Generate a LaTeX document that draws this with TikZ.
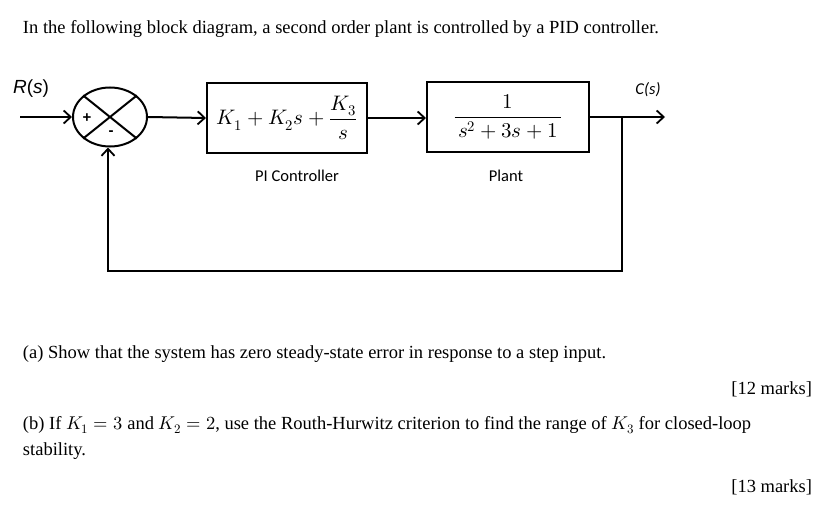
\documentclass[tikz,border=0pt]{standalone}
\usepackage{amsmath}
\usepackage{unicode-math}
\setmainfont{Liberation Serif}
\setmathfont{Latin Modern Math}
\newfontfamily\carl{Carlito}
\newfontfamily\arl{Liberation Sans}
\usetikzlibrary{shapes.geometric,arrows.meta}
\begin{document}
\begin{tikzpicture}[x=1pt,y=-1pt,
  line width=2pt,
  blk/.style={draw,line width=2pt,minimum width=#1,minimum height=69pt,inner sep=0},
  arr/.style={-{Straight Barb[length=7pt,width=13pt,line width=1.8pt]}},
  txt/.style={anchor=west,font=\fontsize{18.5}{22}\selectfont,inner sep=0},
  lab/.style={font=\carl\fontsize{16.5}{20}\selectfont,inner sep=0}]
\useasboundingbox (0,0) rectangle (839,519);
\node[txt] (title) at (22,29) {In the following block diagram, a second order plant is controlled by a PID controller.};
\node[draw,ellipse,line width=2pt,minimum width=74pt,minimum height=59pt,inner sep=0] (sum) at (110,117) {};
\draw (sum.north west) -- (sum.south east) (sum.north east) -- (sum.south west);
\node[font=\arl\bfseries\fontsize{15}{18}\selectfont] (plus) at (87,118) {+};
\node[font=\arl\bfseries\fontsize{15}{18}\selectfont] (minus) at (111,133) {-};
\coordinate (in) at (20,117);
\node[font=\arl\fontsize{19}{22}\selectfont,inner sep=0] (R) at (31,89) {{\itshape R}({\itshape s})};
\node[blk=160pt] (pi) at (287,118) {\fontsize{21}{25}\selectfont $K_1+K_2s+\dfrac{K_3}{s}$};
\node[blk=162pt] (plant) at (508,117) {\fontsize{21}{25}\selectfont $\dfrac{1}{\,s^2+3s+1\,}$};
\node[lab] (pil) at (297,176) {PI Controller};
\node[lab] (pll) at (506,176) {Plant};
\node[lab,font=\carl\itshape\fontsize{16.5}{20}\selectfont] (C) at (648,90) {C(s)};
\coordinate (out) at (665,117);
\coordinate (br) at (622,117);
\coordinate (b1) at (622,271);
\coordinate (b2) at (108,271);
\draw[arr] (in) -- (sum.west);
\draw[arr] (sum.east) -- (pi.west);
\draw[arr] (pi.east) -- (plant.west |- pi.east);
\draw[arr] (plant.east) -- (out);
\draw[arr] (br) -- (b1) -- (b2) -- (sum.south -| b2);
\node[txt] (qa) at (22,354) {(a) Show that the system has zero steady-state error in response to a step input.};
\node[txt,anchor=east] (m1) at (813,389) {[12 marks]};
\node[txt] (qb) at (22,425) {(b) If $K_1=3$ and $K_2=2$, use the Routh-Hurwitz criterion to find the range of $K_3$ for closed-loop};
\node[txt] (qb2) at (22,451) {stability.};
\node[txt,anchor=east] (m2) at (813,487) {[13 marks]};
\end{tikzpicture}
\end{document}
